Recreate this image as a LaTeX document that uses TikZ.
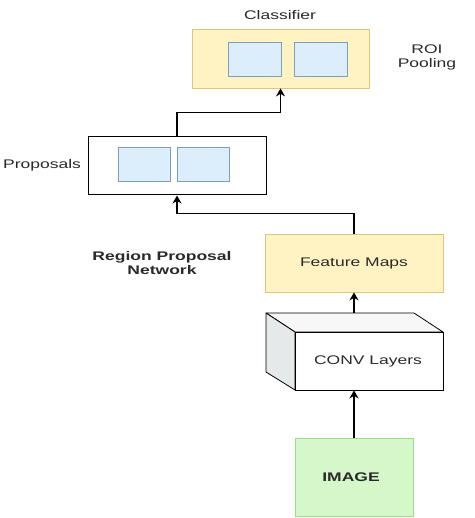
\documentclass[tikz,border=0pt]{standalone}
\usepackage{fontspec}
\setmainfont{Liberation Sans}[FakeStretch=1.4]
\usetikzlibrary{arrows.meta}
\definecolor{ylfill}{HTML}{FFF3C4}
\definecolor{yldraw}{HTML}{DCC77A}
\definecolor{blfill}{HTML}{DCEEFC}
\definecolor{bldraw}{HTML}{7E9DC0}
\definecolor{grfill}{HTML}{D4F8CA}
\definecolor{grdraw}{HTML}{9CDC88}
\definecolor{txt}{HTML}{2A2A2A}
\definecolor{sidefill}{HTML}{E6E9E9}
\definecolor{topfill}{HTML}{F7F7F7}
\begin{document}
\begin{tikzpicture}[x=1pt,y=-1pt,
  lbl/.style={text=txt,font=\fontsize{12.5}{14}\selectfont,align=center,inner sep=0pt},
  boxbase/.style={rectangle,inner sep=0pt,line width=0.8pt},
  yellowbox/.style={boxbase,fill=ylfill,draw=yldraw},
  bluebox/.style={boxbase,fill=blfill,draw=bldraw,minimum width=53pt,minimum height=34pt},
  plainbox/.style={boxbase,fill=white,draw=black,line width=1pt},
  greenbox/.style={boxbase,fill=grfill,draw=grdraw},
  arr/.style={line width=1.3pt,-{Stealth[length=8pt,width=9pt]}}]
\useasboundingbox[fill=white] (0,0) rectangle (474,518);
% Classifier
\node[yellowbox,minimum width=177pt,minimum height=59pt] (classifier) at (280.5,58.5) {};
\node[bluebox] (cl1) at (254.5,59) {};
\node[bluebox] (cl2) at (320.5,59) {};
\node[lbl] (cltext) at (280,15) {Classifier};
\node[lbl] (roi) at (427,57) {ROI\\Pooling};
% Proposals
\node[plainbox,minimum width=178pt,minimum height=58pt] (proposals) at (177,166) {};
\node[bluebox,minimum width=52pt] (p1) at (144,164) {};
\node[bluebox,minimum width=52pt] (p2) at (203,164) {};
\node[lbl,anchor=center] (proptext) at (42,165) {Proposals};
\node[lbl,font=\fontsize{12.5}{14}\selectfont\bfseries] (rpn) at (162,263) {Region Proposal\\Network};
% Feature maps
\node[yellowbox,minimum width=178pt,minimum height=58pt,lbl] (features) at (354,263) {Feature Maps};
% CONV cuboid
\filldraw[fill=topfill,draw=black,line width=0.8pt,line join=round] (266,313) -- (414,313) -- (443,332) -- (295,332) -- cycle;
\filldraw[fill=sidefill,draw=black,line width=0.8pt,line join=round] (266,313) -- (295,332) -- (295,390) -- (266,372) -- cycle;
\node[boxbase,fill=white,draw=black,minimum width=148pt,minimum height=58pt] (conv) at (369,361) {};
\node[lbl] (convtext) at (368,361) {CONV Layers};
\coordinate (convtop) at (354,313);
% Image
\node[greenbox,minimum width=118pt,minimum height=78pt] (image) at (354,477) {};
\node[lbl,font=\fontsize{12.5}{14}\selectfont\bfseries] (imgtext) at (351,477) {IMAGE};
% Arrows
\draw[arr] (image.north) -- (image.north |- conv.south);
\draw[arr] (convtop) -- (features.south);
\draw[arr] (features.north) -- ++(0,-20) -| (proposals.south);
\draw[arr] (proposals.north) -- ++(0,-24) -| (classifier.south);
\end{tikzpicture}
\end{document}
